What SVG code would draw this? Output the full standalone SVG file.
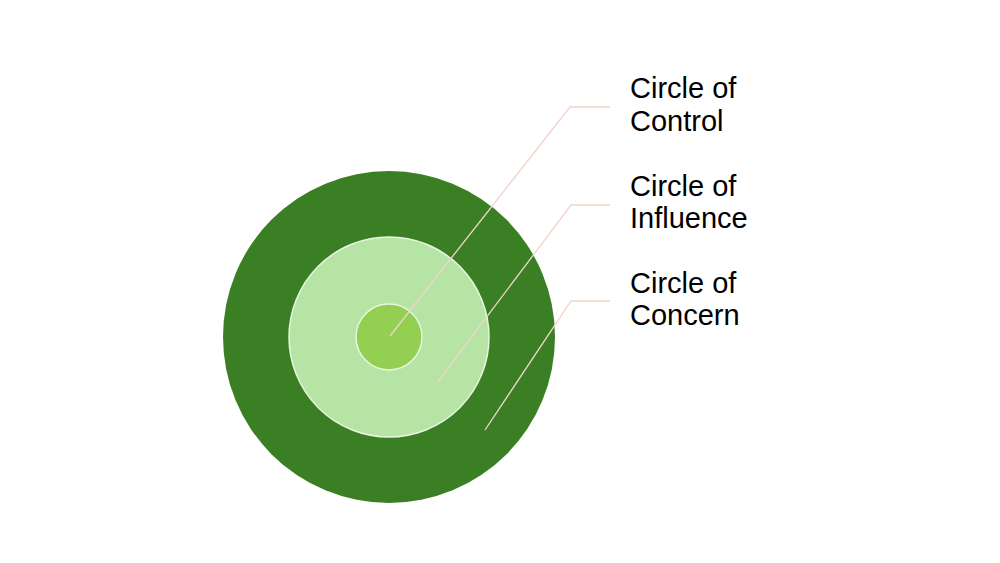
<svg xmlns="http://www.w3.org/2000/svg" width="1000" height="563" viewBox="0 0 1000 563">
<style>
.c{stroke:#e8f5e0;stroke-width:1.5}
.l{fill:none;stroke:#f2d4cc;stroke-width:1.3}
text{font-family:"Liberation Sans",Arial,sans-serif;font-size:29px;fill:#000}
</style>
<rect width="1000" height="563" fill="#fff"/>
<g id="concern"><circle cx="389" cy="337" r="166" fill="#3b7f24"/></g>
<g id="influence"><circle class="c" cx="389" cy="337" r="100" fill="#b5e4a5"/></g>
<g id="control"><circle class="c" cx="389" cy="337" r="33" fill="#93d051"/></g>
<g id="connectors">
<polyline class="l" points="390,336 570,107 610,107"/>
<polyline class="l" points="437,383 571,205 610,205"/>
<polyline class="l" points="485,430 571,301 610,301"/>
</g>
<g id="labels">
<text x="630" y="98">Circle of</text><text x="630" y="131">Control</text>
<text x="630" y="196">Circle of</text><text x="630" y="228">Influence</text>
<text x="630" y="293">Circle of</text><text x="630" y="325">Concern</text>
</g>
</svg>
